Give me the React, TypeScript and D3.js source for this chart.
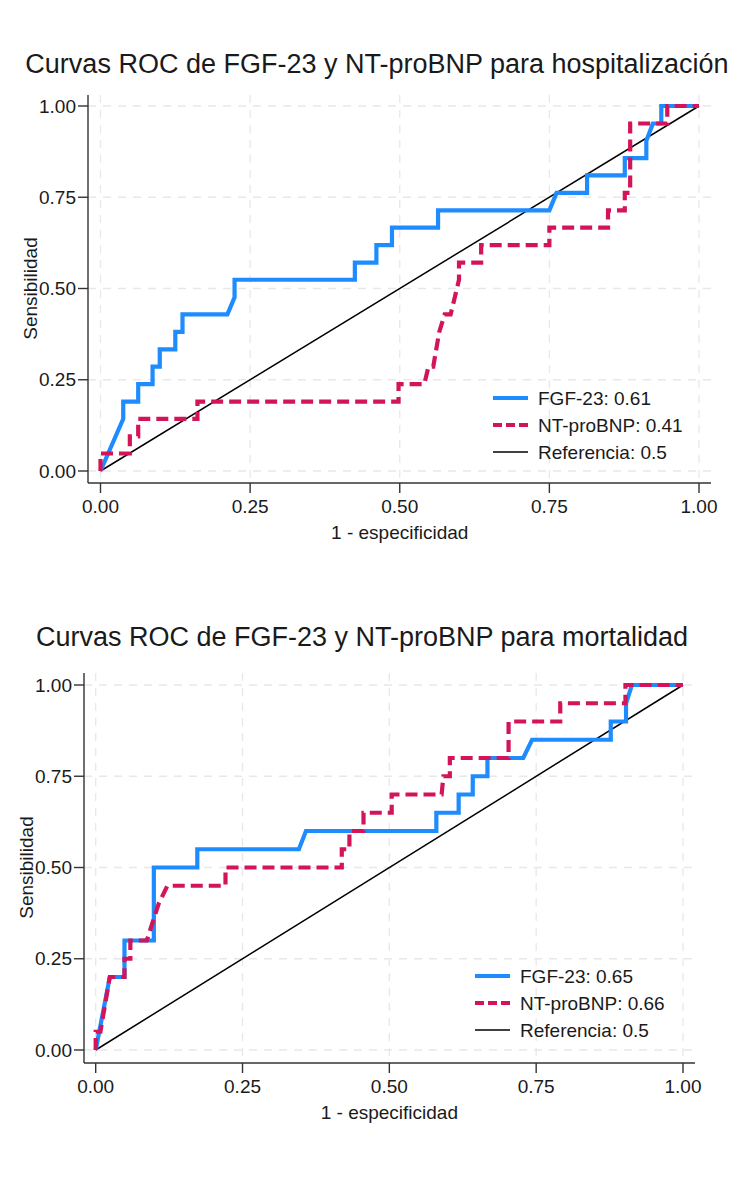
import * as d3 from "d3";

// ROC points [1 - especificidad, sensibilidad]
const hospFGF23: [number, number][] = [
  [0, 0], [0.038, 0.143], [0.038, 0.19], [0.063, 0.19], [0.063, 0.238],
  [0.087, 0.238], [0.087, 0.286], [0.099, 0.286], [0.099, 0.333],
  [0.125, 0.333], [0.125, 0.381], [0.137, 0.381], [0.137, 0.429],
  [0.212, 0.429], [0.224, 0.476], [0.224, 0.524], [0.425, 0.524],
  [0.425, 0.571], [0.461, 0.571], [0.461, 0.619], [0.487, 0.619],
  [0.487, 0.667], [0.564, 0.667], [0.564, 0.714], [0.75, 0.714],
  [0.762, 0.762], [0.813, 0.762], [0.813, 0.81], [0.876, 0.81],
  [0.876, 0.857], [0.912, 0.857], [0.912, 0.905], [0.923, 0.952],
  [0.937, 0.952], [0.937, 1], [1, 1],
];

const hospNTproBNP: [number, number][] = [
  [0, 0], [0, 0.048], [0.049, 0.048], [0.049, 0.095], [0.063, 0.095],
  [0.063, 0.143], [0.162, 0.143], [0.162, 0.19], [0.498, 0.19],
  [0.498, 0.238], [0.541, 0.238], [0.548, 0.286], [0.556, 0.286],
  [0.566, 0.381], [0.575, 0.429], [0.585, 0.429], [0.592, 0.476],
  [0.599, 0.524], [0.599, 0.571], [0.636, 0.571], [0.636, 0.619],
  [0.75, 0.619], [0.75, 0.667], [0.848, 0.667], [0.848, 0.714],
  [0.876, 0.714], [0.876, 0.762], [0.885, 0.762], [0.885, 0.952],
  [0.947, 0.952], [0.947, 1], [1, 1],
];

const mortFGF23: [number, number][] = [
  [0, 0], [0.024, 0.2], [0.049, 0.2], [0.049, 0.3], [0.099, 0.3],
  [0.099, 0.5], [0.173, 0.5], [0.173, 0.55], [0.346, 0.55], [0.358, 0.6],
  [0.58, 0.6], [0.58, 0.65], [0.618, 0.65], [0.618, 0.7], [0.642, 0.7],
  [0.642, 0.75], [0.667, 0.75], [0.667, 0.8], [0.728, 0.8], [0.743, 0.85],
  [0.877, 0.85], [0.877, 0.9], [0.903, 0.9], [0.903, 0.95], [0.913, 1],
  [1, 1],
];

const mortNTproBNP: [number, number][] = [
  [0, 0], [0, 0.05], [0.008, 0.05], [0.024, 0.2], [0.049, 0.2],
  [0.049, 0.25], [0.059, 0.25], [0.059, 0.3], [0.087, 0.3], [0.097, 0.35],
  [0.107, 0.4], [0.122, 0.45], [0.221, 0.45], [0.221, 0.5], [0.419, 0.5],
  [0.419, 0.55], [0.432, 0.55], [0.432, 0.6], [0.456, 0.6], [0.456, 0.65],
  [0.504, 0.65], [0.504, 0.7], [0.589, 0.7], [0.592, 0.75], [0.603, 0.75],
  [0.603, 0.8], [0.703, 0.8], [0.703, 0.9], [0.791, 0.9], [0.791, 0.95],
  [0.902, 0.95], [0.902, 1], [1, 1],
];

const referenceLine: [number, number][] = [[0, 0], [1, 1]];

const ticks = [0, 0.25, 0.5, 0.75, 1];
const hospLegend = ["FGF-23: 0.61", "NT-proBNP: 0.41", "Referencia: 0.5"];
const mortLegend = ["FGF-23: 0.65", "NT-proBNP: 0.66", "Referencia: 0.5"];

const BLUE = "#1e8cff";
const RED = "#d3145a";
const FONT = "'Liberation Sans', Arial, sans-serif";

type Frame = {
  x0: number; x1: number; y0: number; y1: number;
  axisX: number; axisY: number; right: number; top: number;
  titleX: number; titleY: number; ylabX: number;
  legX: number; legY: number;
};

function RocPanel({
  title, fgf, bnp, legend, f,
}: {
  title: string;
  fgf: [number, number][];
  bnp: [number, number][];
  legend: string[];
  f: Frame;
}) {
  const x = d3.scaleLinear().domain([0, 1]).range([f.x0, f.x1]);
  const y = d3.scaleLinear().domain([0, 1]).range([f.y0, f.y1]);
  const line = d3.line<[number, number]>().x((d) => x(d[0])).y((d) => y(d[1]));
  const fmt = d3.format(".2f");

  return (
    <g fontFamily={FONT} fill="#1a1a1a">
      <text x={f.titleX} y={f.titleY} textAnchor="middle" fontSize={27}>
        {title}
      </text>

      {/* grid */}
      {ticks.map((t) => (
        <line key={"gx" + t} x1={x(t)} x2={x(t)} y1={f.top} y2={f.axisY}
          stroke="#e8e8e8" strokeWidth={1.3} strokeDasharray="8,7" />
      ))}
      {ticks.map((t) => (
        <line key={"gy" + t} x1={f.axisX} x2={f.right} y1={y(t)} y2={y(t)}
          stroke="#e8e8e8" strokeWidth={1.3} strokeDasharray="8,7" />
      ))}

      {/* axes */}
      <line x1={f.axisX} x2={f.axisX} y1={f.top} y2={f.axisY} stroke="#333" strokeWidth={1.4} />
      <line x1={f.axisX} x2={f.right} y1={f.axisY} y2={f.axisY} stroke="#333" strokeWidth={1.4} />
      {ticks.map((t) => (
        <g key={"ty" + t}>
          <line x1={f.axisX - 10} x2={f.axisX} y1={y(t)} y2={y(t)} stroke="#333" strokeWidth={1.4} />
          <text x={f.axisX - 12} y={y(t)} dy="0.35em" textAnchor="end" fontSize={19}>
            {fmt(t)}
          </text>
        </g>
      ))}
      {ticks.map((t) => (
        <g key={"tx" + t}>
          <line x1={x(t)} x2={x(t)} y1={f.axisY} y2={f.axisY + 10} stroke="#333" strokeWidth={1.4} />
          <text x={x(t)} y={f.axisY + 30} textAnchor="middle" fontSize={19}>
            {fmt(t)}
          </text>
        </g>
      ))}
      <text x={(f.x0 + f.x1) / 2} y={f.axisY + 56} textAnchor="middle" fontSize={19}>
        1 - especificidad
      </text>
      <text transform={`translate(${f.ylabX},${(f.y0 + f.y1) / 2}) rotate(-90)`}
        textAnchor="middle" fontSize={19}>
        Sensibilidad
      </text>

      {/* curves */}
      <path d={line(referenceLine) ?? ""} fill="none" stroke="#000" strokeWidth={1.5} />
      <path d={line(fgf) ?? ""} fill="none" stroke={BLUE} strokeWidth={4.2} strokeLinejoin="miter" />
      <path d={line(bnp) ?? ""} fill="none" stroke={RED} strokeWidth={4.2} strokeDasharray="12,6" />

      {/* legend */}
      {legend.map((label, i) => {
        const ly = f.legY + i * 27;
        return (
          <g key={label}>
            <line x1={f.legX} x2={f.legX + 35} y1={ly} y2={ly}
              stroke={i === 0 ? BLUE : i === 1 ? RED : "#000"}
              strokeWidth={i === 2 ? 1.5 : 4.2}
              strokeDasharray={i === 1 ? "9,4" : undefined} />
            <text x={f.legX + 45} y={ly} dy="0.35em" fontSize={19}>{label}</text>
          </g>
        );
      })}
    </g>
  );
}

export default function App() {
  const topFrame: Frame = {
    x0: 100.5, x1: 699, y0: 471, y1: 106,
    axisX: 88, axisY: 483, right: 711, top: 95,
    titleX: 377, titleY: 73, ylabX: 37,
    legX: 493, legY: 398,
  };
  const botFrame: Frame = {
    x0: 95.7, x1: 683, y0: 1050, y1: 685,
    axisX: 84, axisY: 1063, right: 695, top: 673,
    titleX: 362, titleY: 646, ylabX: 33,
    legX: 475, legY: 976,
  };
  return (
    <svg width={750} height={1200} viewBox="0 0 750 1200"
      style={{ position: "absolute", left: 0, top: 0, background: "#fff" }}>
      <rect width={750} height={1200} fill="#fff" />
      <RocPanel title="Curvas ROC de FGF-23 y NT-proBNP para hospitalización"
        fgf={hospFGF23} bnp={hospNTproBNP} legend={hospLegend} f={topFrame} />
      <RocPanel title="Curvas ROC de FGF-23 y NT-proBNP para mortalidad"
        fgf={mortFGF23} bnp={mortNTproBNP} legend={mortLegend} f={botFrame} />
    </svg>
  );
}
